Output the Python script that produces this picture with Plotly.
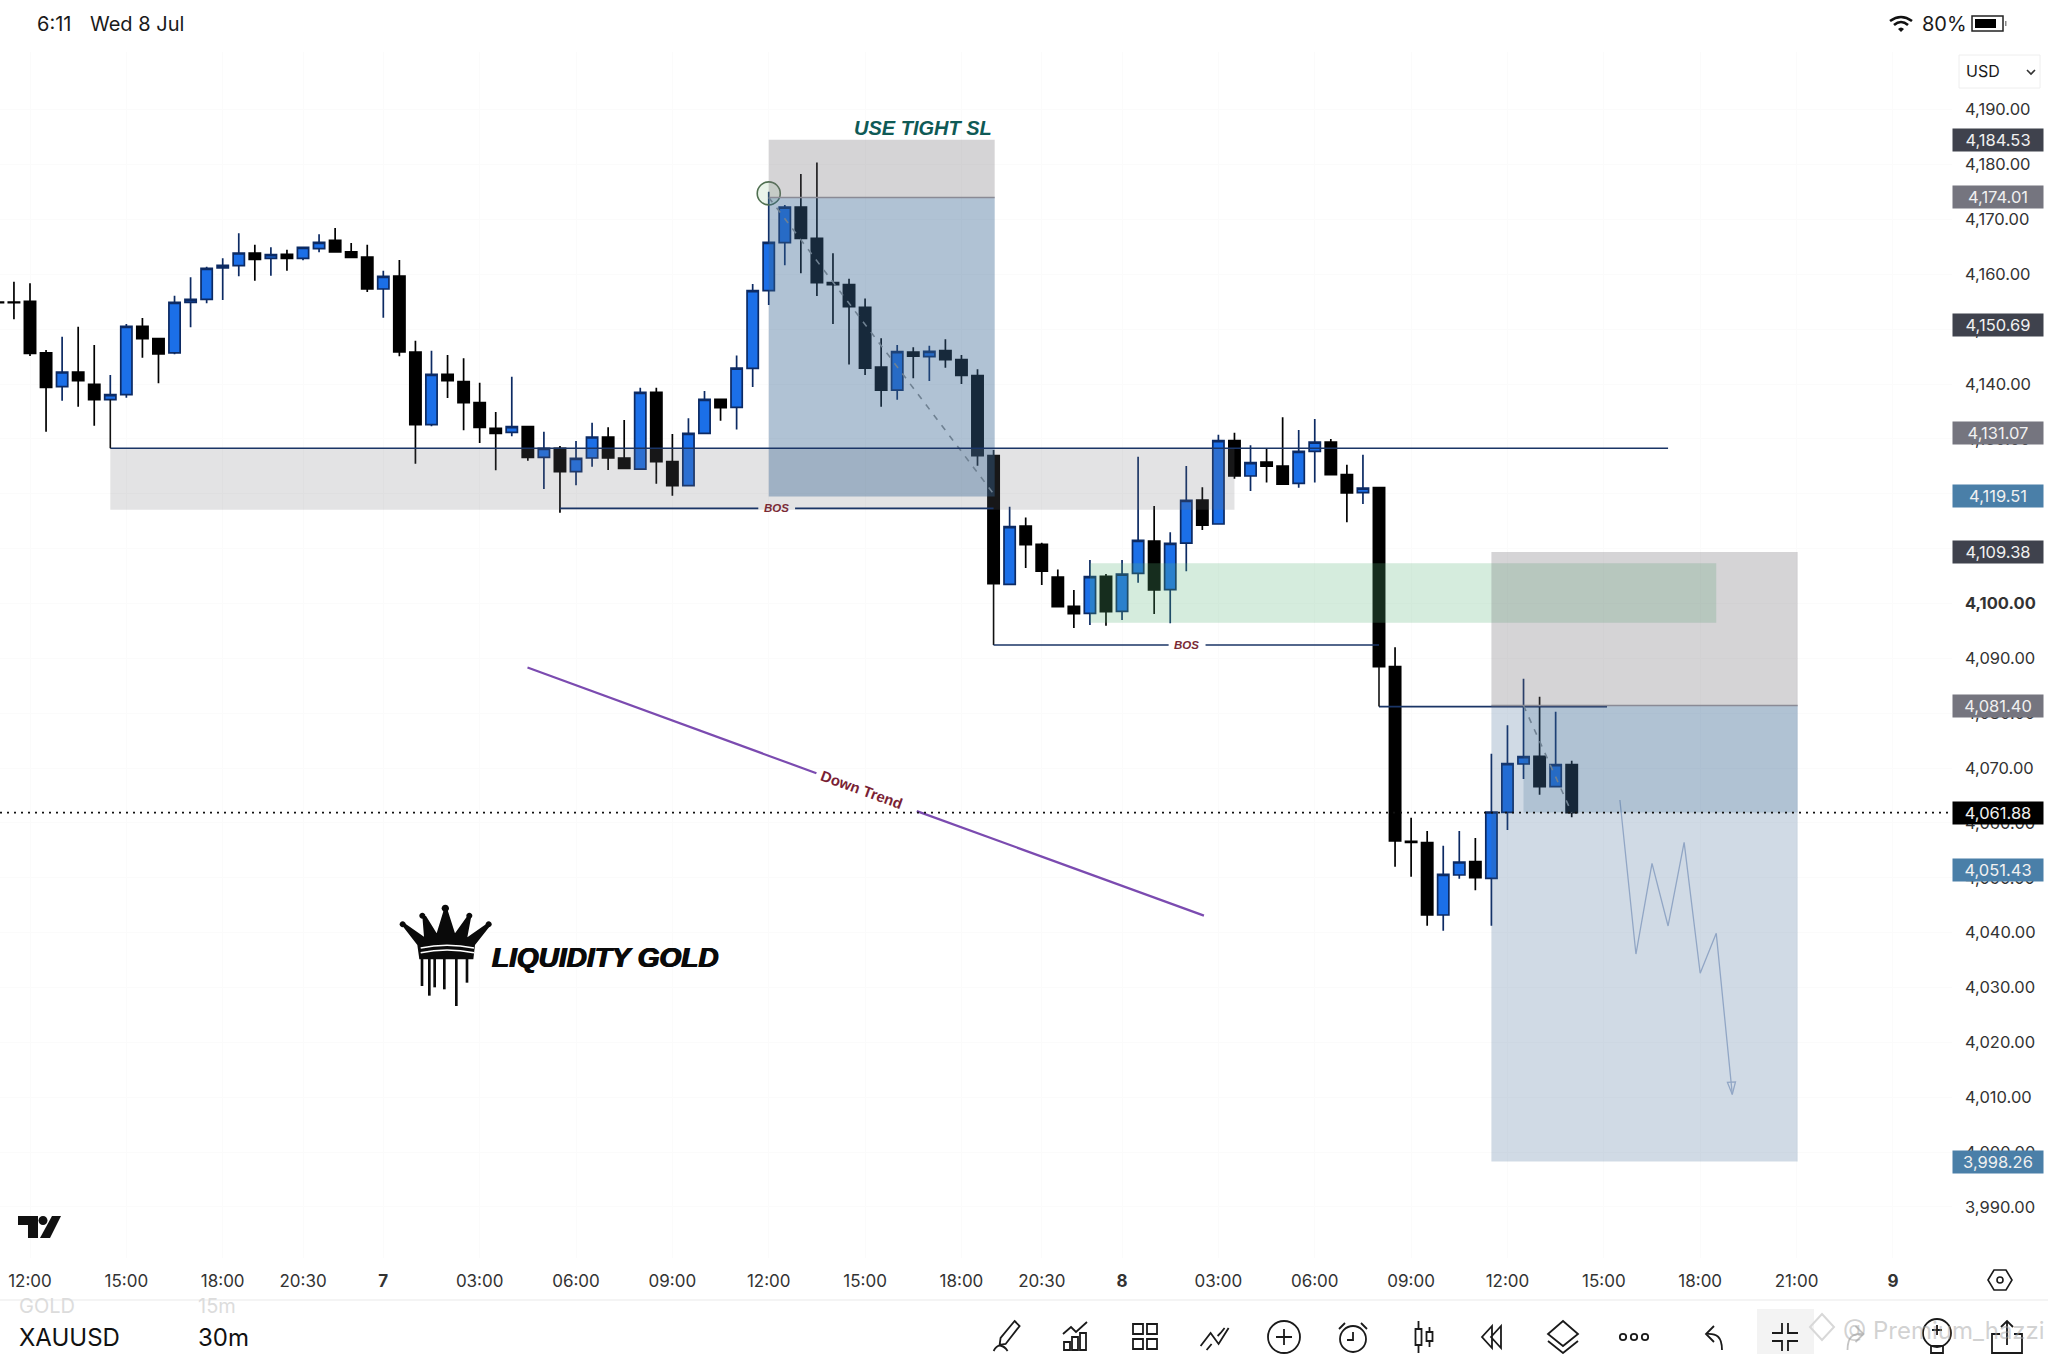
import re
import plotly.graph_objects as go

# 30m XAUUSD candles (bar index -2 .. 96)
opens = [4154.95, 4154.95, 4155.07, 4145.66, 4139.52, 4142.19, 4139.94, 4137.15, 4138.06, 4150.52,
         4148.27, 4145.66, 4154.89, 4155.44, 4161.15, 4161.57, 4163.88, 4162.91, 4163.64, 4162.91,
         4164.67, 4166.19, 4164.07, 4163.15, 4157.32, 4159.69, 4145.84, 4132.59, 4141.77, 4140.43,
         4136.60, 4131.92, 4131.19, 4132.22, 4126.63, 4128.27, 4124.02, 4126.51, 4130.34, 4126.51,
         4124.50, 4138.48, 4125.84, 4121.47, 4131.01, 4137.20, 4135.74, 4142.85, 4157.01, 4165.76,
         4172.26, 4166.55, 4158.47, 4158.10, 4153.97, 4143.10, 4138.90, 4145.83, 4144.98, 4146.07,
         4144.43, 4141.52, 4126.93, 4103.48, 4114.11, 4110.77, 4104.82, 4099.47, 4098.19, 4104.94,
         4098.56, 4105.48, 4111.38, 4102.51, 4111.01, 4118.85, 4114.48, 4129.67, 4123.23, 4125.78,
         4125.05, 4121.89, 4127.72, 4129.42, 4123.47, 4120.19, 4121.10, 4088.48, 4056.64, 4056.40,
         4043.21, 4050.50, 4052.93, 4049.90, 4061.93, 4070.74, 4072.14, 4066.61, 4070.62]
highs = [4155.00, 4158.66, 4158.35, 4146.20, 4148.63, 4150.46, 4147.11, 4141.65, 4150.94, 4152.04,
         4148.33, 4156.11, 4159.45, 4161.39, 4162.91, 4167.47, 4165.40, 4164.92, 4164.49, 4164.92,
         4167.29, 4168.44, 4165.71, 4165.40, 4160.66, 4162.61, 4147.90, 4146.08, 4145.29, 4144.68,
         4140.25, 4134.90, 4141.34, 4132.40, 4131.31, 4128.70, 4129.61, 4132.95, 4132.10, 4133.44,
         4139.33, 4139.33, 4130.88, 4133.74, 4138.72, 4137.32, 4145.22, 4158.23, 4175.06, 4172.63,
         4178.28, 4180.40, 4163.82, 4159.20, 4155.61, 4148.32, 4147.11, 4146.68, 4146.99, 4148.14,
         4145.28, 4142.67, 4127.97, 4117.64, 4115.69, 4111.07, 4106.21, 4102.45, 4107.92, 4105.36,
         4107.92, 4126.75, 4117.76, 4112.96, 4125.05, 4121.16, 4130.76, 4131.13, 4128.82, 4128.27,
         4133.92, 4131.61, 4133.62, 4129.97, 4125.29, 4127.12, 4121.28, 4092.00, 4060.95, 4058.52,
         4055.85, 4058.52, 4057.25, 4072.62, 4077.79, 4086.29, 4083.01, 4080.28, 4071.34]
lows = [4154.80, 4151.79, 4145.11, 4131.32, 4136.97, 4135.87, 4132.41, 4137.15, 4137.51, 4144.81,
        4140.13, 4145.41, 4150.33, 4154.71, 4155.32, 4159.63, 4158.84, 4159.75, 4160.66, 4162.55,
        4164.01, 4164.07, 4163.09, 4156.77, 4152.10, 4145.05, 4125.48, 4132.29, 4137.45, 4131.56,
        4129.25, 4124.27, 4130.47, 4126.02, 4120.86, 4116.54, 4121.53, 4124.93, 4124.32, 4124.63,
        4124.32, 4121.83, 4119.64, 4121.47, 4131.01, 4133.31, 4131.73, 4139.45, 4154.40, 4161.63,
        4160.17, 4156.04, 4150.93, 4143.58, 4141.64, 4135.87, 4137.14, 4141.03, 4140.54, 4142.98,
        4140.00, 4125.11, 4103.60, 4103.48, 4106.46, 4103.36, 4099.41, 4095.52, 4096.07, 4095.95,
        4096.98, 4103.78, 4098.07, 4096.37, 4105.85, 4113.38, 4114.48, 4122.74, 4120.49, 4122.07,
        4121.77, 4121.10, 4122.07, 4123.47, 4114.78, 4118.12, 4088.47, 4052.02, 4050.20, 4041.27,
        4040.36, 4049.84, 4047.71, 4041.27, 4058.71, 4068.00, 4065.15, 4066.61, 4061.02]
closes = [4154.85, 4154.83, 4145.59, 4139.40, 4142.19, 4140.61, 4137.15, 4138.06, 4150.52, 4148.27,
          4145.47, 4154.89, 4155.44, 4161.09, 4161.64, 4163.88, 4162.73, 4163.58, 4162.91, 4164.92,
          4165.83, 4164.07, 4163.09, 4157.32, 4159.63, 4145.84, 4132.59, 4141.77, 4140.61, 4136.60,
          4132.11, 4131.01, 4132.23, 4126.63, 4128.27, 4124.02, 4126.45, 4130.34, 4126.51, 4124.63,
          4138.48, 4125.84, 4121.47, 4131.01, 4137.20, 4135.68, 4142.91, 4157.01, 4165.82, 4172.26,
          4166.55, 4158.47, 4158.10, 4154.09, 4142.91, 4138.90, 4145.89, 4145.10, 4145.95, 4144.43,
          4141.58, 4126.93, 4103.60, 4113.99, 4110.71, 4105.91, 4099.41, 4098.13, 4104.88, 4098.50,
          4105.36, 4111.50, 4102.45, 4110.95, 4118.79, 4114.29, 4129.67, 4123.23, 4125.66, 4125.05,
          4121.77, 4127.72, 4129.42, 4123.47, 4120.13, 4121.04, 4088.47, 4056.70, 4056.46, 4043.21,
          4050.63, 4052.87, 4050.02, 4061.99, 4070.80, 4072.07, 4066.61, 4070.62, 4061.88]
bars = list(range(-2, 97))

price_ticks = [4190, 4180, 4170, 4160, 4150, 4140, 4130, 4120, 4110, 4100, 4090,
               4080, 4070, 4060, 4050, 4040, 4030, 4020, 4010, 4000, 3990]
time_bars = [0, 6, 12, 17, 22, 28, 34, 40, 46, 52, 58, 63, 68, 74, 80, 86, 92, 98, 104, 110, 116]
time_labels = ['12:00', '15:00', '18:00', '20:30', '<b>7</b>', '03:00', '06:00', '09:00', '12:00', '15:00',
               '18:00', '20:30', '<b>8</b>', '03:00', '06:00', '09:00', '12:00', '15:00', '18:00', '21:00', '<b>9</b>']

tag_prices = [4184.53, 4174.01, 4150.69, 4131.07, 4119.51, 4109.38, 4081.40, 4061.88, 4051.43, 3998.26]
tag_colors = ['#3f424d', '#75757f', '#3f424d', '#75757f', '#4a7fa8', '#3f424d', '#75757f', '#000000', '#4a7fa8', '#4a7fa8']

forecast_bars = [99, 100, 101, 102, 103, 104, 105, 106]
forecast_prices = [4064.17, 4036.10, 4052.63, 4041.21, 4056.46, 4032.60, 4039.87, 4010.50]

# page geometry of the plot area, everything outside it is placed in page pixels
PLOT_R = 1952
PLOT_T = 52
PLOT_B = 1258


def px_x(x):
    return x / PLOT_R


def px_y(y):
    return (PLOT_B - y) / (PLOT_B - PLOT_T)


def ui_path(d, ox=0, oy=0, s=1.0):
    out = []
    is_x = True
    for tok in re.findall(r'[MLCQZ]|-?\d+\.?\d*', d):
        if tok in 'MLCQZ':
            out.append(tok)
            is_x = True
        elif is_x:
            out.append(str(round(px_x(ox + float(tok) * s), 5)))
            is_x = False
        else:
            out.append(str(round(px_y(oy + float(tok) * s), 5)))
            is_x = True
    return ' '.join(out)


def circle(cx, cy, r):
    k = r * 0.5523
    return (f'M {cx - r} {cy} C {cx - r} {cy - k} {cx - k} {cy - r} {cx} {cy - r} '
            f'C {cx + k} {cy - r} {cx + r} {cy - k} {cx + r} {cy} '
            f'C {cx + r} {cy + k} {cx + k} {cy + r} {cx} {cy + r} '
            f'C {cx - k} {cy + r} {cx - r} {cy + k} {cx - r} {cy} Z')


def rect(x0, y0, x1, y1):
    return f'M {x0} {y0} L {x1} {y0} L {x1} {y1} L {x0} {y1} Z'


shapes = []
annotations = []


def ui(d, ox=0, oy=0, s=1.0, fill=None, line=None, w=1.8):
    shapes.append(dict(type='path', xref='paper', yref='paper', path=ui_path(d, ox, oy, s),
                       fillcolor=fill or 'rgba(0,0,0,0)',
                       line=dict(color=line or 'rgba(0,0,0,0)', width=w if line else 0), layer='above'))


def label(x, y, text, size, color='#1a1a1a', anchor='left', family='Inter', shadow=None):
    font = dict(size=size, color=color, family=family)
    if shadow:
        font['shadow'] = shadow
    annotations.append(dict(xref='paper', yref='paper', x=px_x(x), y=px_y(y), text=text, showarrow=False,
                            xanchor=anchor, yanchor='middle', font=font))


def zone(x0, x1, y0, y1, color):
    shapes.append(dict(type='rect', xref='x', yref='y', x0=x0, x1=x1, y0=y0, y1=y1,
                       fillcolor=color, line=dict(width=0), layer='above'))


def seg(x0, y0, x1, y1, color, width=1.6, dash='solid'):
    shapes.append(dict(type='line', xref='x', yref='y', x0=x0, x1=x1, y0=y0, y1=y1,
                       line=dict(color=color, width=width, dash=dash), layer='above'))


NAVY = '#1a3566'
GRID_GRAY = 'rgba(115,112,118,0.3)'
POS_BLUE = 'rgba(57,102,147,0.4)'
LIGHT_BLUE = 'rgba(57,102,147,0.24)'
DONE_BLUE = 'rgba(57,102,147,0.21)'

# support zone and green zone
zone(5, 75, 4117.1, 4128.3, 'rgba(115,115,120,0.2)')
zone(66, 105, 4096.49, 4107.31, 'rgba(87,179,119,0.25)')

# first short position
zone(46, 60.07, 4174.01, 4184.53, GRID_GRAY)
zone(46, 60.07, 4119.51, 4174.01, POS_BLUE)
seg(46, 4174.01, 60.07, 4174.01, '#8a8a95')
seg(46, 4174.01, 60.1, 4119.6, '#6f8192', dash='6px,7px')

# second short position
zone(91, 110.07, 4081.40, 4109.38, GRID_GRAY)
zone(91, 110.07, 3998.26, 4081.40, LIGHT_BLUE)
zone(93, 110.07, 4061.88, 4081.40, DONE_BLUE)
seg(84, 4081.2, 98.2, 4081.2, NAVY)
seg(91, 4081.40, 110.07, 4081.40, '#8a8a95')
seg(93, 4081.40, 96, 4061.88, '#6f8192', dash='6px,7px')

# structure lines
seg(5, 4128.3, 102, 4128.3, NAVY)
seg(5, 4137.15, 5, 4128.3, '#111111')
seg(33, 4117.33, 45.35, 4117.33, NAVY)
seg(47.64, 4117.33, 60, 4117.33, NAVY)
seg(60, 4103.6, 60, 4092.42, '#111111')
seg(60, 4092.42, 70.9, 4092.42, NAVY)
seg(73.2, 4092.42, 84, 4092.42, NAVY)
seg(84, 4088.47, 84, 4081.2, '#111111')

# down trend, broken around its label
seg(30.98, 4088.34, 48.97, 4069.05, '#7b4bb0', 2.2)
seg(55.22, 4062.15, 73.1, 4043.1, '#7b4bb0', 2.2)

# last price
shapes.append(dict(type='line', xref='paper', yref='y', x0=0, x1=1, y0=4061.88, y1=4061.88,
                   line=dict(color='#111111', width=1.6, dash='2px,5px'), layer='above'))

# chart annotations
for x, y, txt in [(46.5, 4117.33, 'BOS'), (72.02, 4092.42, 'BOS')]:
    annotations.append(dict(x=x, y=y, text=f'<b><i>{txt}</i></b>', showarrow=False,
                            font=dict(size=11.5, color='#7a2a35', family='Liberation Sans')))
annotations.append(dict(x=51.8, y=4066.17, text='<b>Down Trend</b>', showarrow=False, textangle=20,
                        font=dict(size=15, color='#7a1f35', family='Liberation Sans')))
annotations.append(dict(x=60, y=4186.2, xanchor='right', yanchor='bottom', text='<b><i>USE TIGHT SL</i></b>',
                        showarrow=False, yshift=-10, font=dict(size=20, color='#0f5a56', family='Liberation Sans')))

# price tags on the axis
for p, c in zip(tag_prices, tag_colors):
    annotations.append(dict(xref='paper', yref='y', x=1, y=p, xanchor='left', xshift=0, text=f'{p:,.2f}',
                            showarrow=False, width=90, height=22, align='center', bgcolor=c, borderpad=0,
                            font=dict(size=16.5, color='#f0f0f0', family='Inter')))

# status bar
label(35, 24, '6:11', 20)
label(88, 24, 'Wed 8 Jul', 20)
label(1920, 24, '80%', 20)
for d in ['M -11 -3 Q 0 -11 11 -3', 'M -7 1 Q 0 -5 7 1']:
    ui(d, 1901, 24, line='#111111', w=2.6)
ui('M -3 5 Q 0 2 3 5 L 0 8 Z', 1901, 24, fill='#111111')
ui(rect(1972, 16, 2003, 31), line='#222222', w=1.5)
ui(rect(1975, 19, 1996, 28), fill='#000000')
ui(rect(2005, 21, 2006.5, 26), fill='#888888')

# currency box
shapes.append(dict(type='rect', xref='paper', yref='paper', x0=px_x(1959), x1=px_x(2040),
                   y0=px_y(88), y1=px_y(55), line=dict(color='#eeeeee', width=1), layer='above'))
label(1964, 71, 'USD', 16)
ui('M -4 -2 L 0 2 L 4 -2', 2031, 72, line='#333333', w=1.6)

# tradingview mark
ui('M 18 1216 L 38 1216 L 38 1238 L 28 1238 L 28 1225 L 18 1225 Z', fill='#111111')
ui(circle(43, 1220.5, 4.5), fill='#111111')
ui('M 52 1216 L 61 1216 L 50 1238 L 40 1238 Z', fill='#111111')

# crown logo, drawn in its own small grid
CROWN = dict(ox=380, oy=880, s=1 / 3)
ui('M 118 238 L 112 195 L 66 136 L 74 130 L 132 170 L 127 108 L 138 108 L 170 160 L 192 88 L 202 88 '
   'L 225 160 L 262 108 L 274 108 L 262 172 L 322 130 L 330 138 L 285 195 L 280 238 Z', fill='#0a0a0a', **CROWN)
for cx, cy, r in [(68, 133, 9), (127, 107, 9), (196, 85, 11), (268, 107, 9), (326, 133, 9)]:
    ui(circle(cx, cy, r), fill='#0a0a0a', **CROWN)
for x0, y1 in [(122, 318), (144, 347), (160, 322), (189, 328), (225, 378), (257, 308)]:
    ui(rect(x0, 230, x0 + 8, y1), fill='#0a0a0a', **CROWN)
ui('M 122 204 Q 200 188 282 204', line='#ffffff', w=1.5, **CROWN)
ui('M 122 218 Q 200 202 282 218', line='#ffffff', w=1.5, **CROWN)
label(490, 957, '<b><i>LIQUIDITY GOLD</i></b>', 28, '#0a0a0a', family='Liberation Sans',
      shadow='0.7px 0 0 #0a0a0a, -0.7px 0 0 #0a0a0a')

# bottom bar
shapes.append(dict(type='line', xref='paper', yref='paper', x0=0, x1=px_x(2048), y0=px_y(1300), y1=px_y(1300),
                   line=dict(color='#f1f1f1', width=1.5), layer='above'))
label(17, 1306, 'GOLD', 20, '#dcdcdc')
label(196, 1306, '15m', 20, '#dcdcdc')
label(17, 1337, 'XAUUSD', 24, '#111111')
label(196, 1337, '30m', 24, '#111111')
ui(rect(1757, 1309, 1814, 1354), fill='#f3f3f3')

INK = '#1a1a1a'
ui('M 9 -14 L 14 -9 L 0 9 L -6 10 L -5 3 Z', 1005.6, 1335, line=INK)
ui('M -12 16 C -8 8 -2 10 2 16', 1005.6, 1335, line=INK)
ui('M -12 -2 L -4 -9 L 1 -4 L 12 -14', 1075, 1336, line=INK)
for d in [rect(-11, 14, -5, 6), rect(-3, 14, 3, 1), rect(5, 14, 11, -3)]:
    ui(d, 1075, 1336, line=INK)
for d in [rect(-12, -13, -2, -3), rect(2, -13, 12, -3), rect(-12, 2, -2, 12), rect(2, 2, 12, 12)]:
    ui(d, 1145, 1337, line=INK)
ui('M -14 9 L -4 -4 L 4 7 L 14 -9', 1214.6, 1337, line=INK)
ui('M -8 13 L -3 7 M 3 -1 L 6 -4 L 10 -9', 1214.6, 1337, line=INK)
ui(circle(1284, 1337, 16), line=INK)
ui('M -8 0 L 8 0 M 0 -8 L 0 8', 1284, 1337, line=INK)
ui(circle(1353, 1339, 13), line=INK)
ui('M 0 -7 L 0 1 L -6 1 M -14 -10 L -8 -16 M 14 -10 L 8 -16', 1353, 1339, line=INK)
ui('M -5 -16 L -5 -8 M -5 8 L -5 16 M 6 -10 L 6 -5 M 6 4 L 6 10', 1423.5, 1337, line=INK)
ui(rect(-8, -8, -2, 8), 1423.5, 1337, line=INK)
ui(rect(3, -5, 9, 4), 1423.5, 1337, line=INK)
ui('M -1 -11 L -11 0 L -1 11 Z M 8 -11 L -2 0 L 8 11 Z', 1493, 1337, line=INK)
ui('M 0 -15 L 15 -2 L 0 10 L -15 -2 Z M -15 5 L 0 17 L 15 5', 1563, 1336, line=INK)
for dx in [-11, 0, 11]:
    ui(circle(dx, 0, 3.2), 1634, 1337, line=INK)
ui('M -1 -11 L -9 -3 L -1 5 M -9 -3 C 2 -4 7 0 7 13', 1715, 1337, line=INK)
ui('M -3 -14 L -3 -4 L -13 -4 M 3 -14 L 3 -4 L 13 -4 M -3 14 L -3 4 L -13 4 M 3 14 L 3 4 L 13 4', 1785, 1337, line=INK)
ui('M 1 -11 L 9 -3 L 1 5 M 9 -3 C -2 -4 -7 0 -7 13', 1854.5, 1337, line='#c4c4c4')
ui(circle(1937, 1333, 14), line=INK)
ui(rect(-6, 10, 6, 17), 1937, 1336, line=INK)
ui('M -5 -3 L 5 -3 M 0 -8 L 0 2', 1937, 1333, line=INK)
ui('M -7 -3 L -15 -3 L -15 16 L 15 16 L 15 -3 L 7 -3 M 0 8 L 0 -16 M -6 -10 L 0 -16 L 6 -10', 2007, 1337, line=INK)
ui('M 0 -13 L 12 0 L 0 13 L -12 0 Z', 1822, 1327, line='#d8d8d8', w=2)
label(1841, 1331, '@ Premium_hazzi', 24, 'rgba(165,165,165,0.5)')
ui('M -12 0 L -6 -10 L 6 -10 L 12 0 L 6 10 L -6 10 Z', 2000, 1280, line=INK, w=1.6)
ui(circle(0, 0, 3), 2000, 1280, line=INK, w=1.6)

fig = go.Figure()
fig.add_trace(go.Candlestick(
    x=bars, open=opens, high=highs, low=lows, close=closes,
    increasing=dict(fillcolor='#1b6fe8', line=dict(color='#0c2a63', width=1.7)),
    decreasing=dict(fillcolor='#000000', line=dict(color='#000000', width=1.7)),
    whiskerwidth=0,
    showlegend=False
))
fig.add_trace(go.Scatter(x=forecast_bars, y=forecast_prices, mode='lines',
                         line=dict(color='#adbbd5', width=1.3), showlegend=False))
fig.add_trace(go.Scatter(x=forecast_bars[-1:], y=forecast_prices[-1:], mode='markers', showlegend=False,
                         marker=dict(symbol='arrow-open', angle=176, size=13, color='#adbbd5',
                                     line=dict(color='#adbbd5', width=1.3))))
# touch point of the first entry
fig.add_trace(go.Scatter(x=[46], y=[4174.75], mode='markers', showlegend=False,
                         marker=dict(symbol='circle', size=23, color='rgba(150,200,150,0.2)',
                                     line=dict(color='#4f6f50', width=1.6))))

fig.update_layout(
    width=2048, height=1354,
    margin=dict(l=0, r=96, t=PLOT_T, b=1354 - PLOT_B),
    paper_bgcolor='white', plot_bgcolor='white',
    hovermode=False,
    boxmode='overlay', boxgap=0.3, boxgroupgap=0,
    shapes=shapes, annotations=annotations,
    xaxis=dict(range=[-1.868, 119.68], rangeslider=dict(visible=False), tickmode='array',
               tickvals=time_bars, ticktext=time_labels, ticks='', showline=False, zeroline=False,
               gridcolor='#fbfbfb', tickfont=dict(family='Inter', size=17, color='#333333'),
               ticklabelstandoff=11),
    yaxis=dict(range=[3980.69, 4200.52], side='right', tickmode='array', tickvals=price_ticks,
               ticktext=[f'<b>{p:,.2f}</b>' if p == 4100 else f'{p:,.2f}' for p in price_ticks],
               ticks='', showline=False, zeroline=False, gridcolor='#fbfbfb',
               tickfont=dict(family='Inter', size=16.5, color='#333333'), ticklabelstandoff=12),
)

fig.write_html("out.html", config=dict(displayModeBar=False), post_script="document.body.style.margin='0';")
